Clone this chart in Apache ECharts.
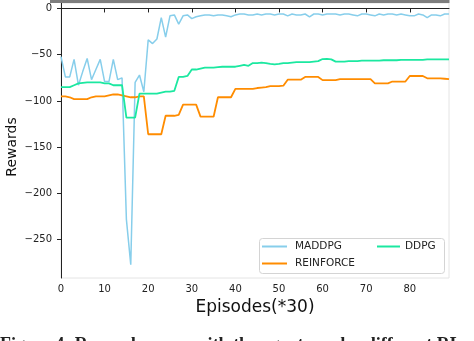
<!DOCTYPE html>
<html>
<head>
<meta charset="utf-8">
<script src="https://cdn.jsdelivr.net/npm/echarts@6/dist/echarts.min.js"></script>
<style>
  html, body { margin: 0; padding: 0; background: #fff; }
  #chart { width: 474px; height: 341px; }
</style>
</head>
<body>
<div id="chart"></div>
<script>
// Training episodes (each step = 30 episodes)
const episodes = Array.from({ length: 90 }, (_, i) => i);

// Average reward per step for each algorithm
const maddpg = [
  -52, -74, -74, -55, -83, -68, -54, -77, -66, -55,
  -79, -79, -55, -77, -75, -228, -277, -80, -72, -90,
  -34, -38, -33, -10, -31, -8, -7, -17, -8, -7,
  -11, -9, -8, -7, -7, -8, -7, -7, -8, -9,
  -7, -6, -6, -7, -7, -6, -7, -6, -6, -7,
  -6, -6, -8, -6, -7, -7, -6, -9, -6, -6,
  -7, -6, -6, -6, -7, -6, -6, -7, -8, -6,
  -6, -7, -8, -6, -7, -6, -6, -7, -6, -7,
  -8, -8, -6, -7, -10, -7, -7, -8, -6, -6
];
const reinforce = [
  -95, -95, -96, -98, -98, -98, -98, -96, -95, -95,
  -95, -94, -93, -93, -94, -95, -96, -96, -95, -95,
  -136, -136, -136, -136, -116, -116, -116, -115, -104, -104,
  -104, -104, -117, -117, -117, -117, -96, -96, -96, -96,
  -87, -87, -87, -87, -87, -86, -85.5, -85, -84, -84,
  -84, -83.5, -77, -77, -77, -77, -74, -74, -74, -74,
  -77.5, -77.5, -77.5, -77.5, -76.5, -76.5, -76.5, -76.5, -76.5, -76.5,
  -76.5, -76.5, -81, -81, -81, -81, -79, -79, -79, -79,
  -73, -73, -73, -73, -75.5, -75.5, -75.5, -75.5, -76, -76.5
];
const ddpg = [
  -85, -85, -85, -83, -81, -80.5, -80, -80, -80, -80,
  -81, -81, -83, -83, -83, -118, -118, -118, -92, -92,
  -92, -92, -92, -91, -90, -90, -89, -74, -74, -73,
  -66, -66, -65, -64, -64, -64, -63.5, -63, -63, -63,
  -63, -62, -61, -62, -59, -59, -58.5, -59, -60, -60.5,
  -60, -59, -59, -58.5, -58, -58, -58, -58, -57.5, -57,
  -54.7, -54.5, -55, -57.5, -57.5, -57.5, -57, -57, -57, -56.5,
  -56.5, -56.5, -56.5, -56.5, -56, -56, -56, -56, -55.5, -55.5,
  -55.5, -55.5, -55.5, -55.5, -55, -55, -55, -55, -55, -55
];

// Tick labels
const xTicks = [0, 10, 20, 30, 40, 50, 60, 70, 80];
const yTicks = [0, -50, -100, -150, -200, -250];

const FONT = 'DejaVu Sans';
const pairs = (ys) => episodes.map((x, i) => [x, ys[i]]);
const minus = (v) => String(v).replace('-', '\u2212');

const legendCommon = {
  orient: 'vertical', top: 240, padding: 0,
  icon: 'rect', itemHeight: 2, itemGap: 4,
  textStyle: { fontFamily: FONT, fontSize: 10.5, color: '#222', lineHeight: 13 }
};

const chart = echarts.init(document.getElementById('chart'), null, { renderer: 'canvas' });

chart.setOption({
  animation: false,
  backgroundColor: '#fff',
  textStyle: { fontFamily: FONT },
  grid: {
    left: 61, right: 25, top: 3, bottom: 63,
    show: true, borderColor: '#e4e4e4', borderWidth: 1, backgroundColor: 'transparent'
  },
  xAxis: {
    type: 'value', min: 0, max: 89,
    name: 'Episodes(*30)', nameLocation: 'middle', nameGap: 19,
    nameTextStyle: { fontFamily: FONT, fontSize: 17, color: '#111' },
    axisLine: { show: true, lineStyle: { color: '#222', width: 1 } },
    axisTick: { show: true, length: 4, customValues: xTicks, lineStyle: { color: '#222' } },
    axisLabel: { customValues: xTicks, margin: 6, fontFamily: FONT, fontSize: 10, color: '#222' },
    splitLine: { show: false }
  },
  yAxis: {
    type: 'value', min: -291.4, max: 5.9,
    axisLine: { show: true, lineStyle: { color: '#222', width: 1 } },
    axisTick: { show: true, length: 4, customValues: yTicks, lineStyle: { color: '#222' } },
    axisLabel: {
      customValues: yTicks, margin: 9, fontFamily: FONT, fontSize: 10, color: '#222',
      formatter: (v) => minus(v)
    },
    splitLine: { show: false }
  },
  legend: [
    Object.assign({}, legendCommon, {
      data: ['MADDPG', 'REINFORCE'], left: 262, itemWidth: 25,
      textStyle: Object.assign({}, legendCommon.textStyle, { padding: [0, 0, 0, 3] })
    }),
    Object.assign({}, legendCommon, {
      data: ['DDPG'], left: 377, itemWidth: 23
    })
  ],
  graphic: [
    {
      type: 'rect', z: 0,
      shape: { x: 259.5, y: 238.5, width: 185, height: 35, r: 3 },
      style: { fill: '#fff', stroke: '#d4d4d4', lineWidth: 1 }
    },
    {
      type: 'rect', z: 10,
      shape: { x: 50, y: 0, width: 399.5, height: 3 },
      style: { fill: '#7d7d7d' }
    },
    {
      type: 'text', z: 10, x: 12, y: 147, rotation: Math.PI / 2,
      style: {
        text: 'Rewards', font: '14px "DejaVu Sans"', fill: '#111',
        align: 'center', verticalAlign: 'middle'
      }
    },
    {
      type: 'text', z: 10, left: 0, top: 336,
      style: {
        text: 'Figure 4: Reward curves with the agents under different RL',
        font: 'bold 18px "Liberation Serif"', fill: '#222'
      }
    }
  ],
  series: [
    {
      name: 'MADDPG', type: 'line', data: pairs(maddpg),
      symbol: 'none', color: '#87ceeb',
      lineStyle: { width: 1.5, color: '#87ceeb' }, z: 2
    },
    {
      name: 'REINFORCE', type: 'line', data: pairs(reinforce),
      symbol: 'none', color: '#ff8c00',
      lineStyle: { width: 1.8, color: '#ff8c00' }, z: 3
    },
    {
      name: 'DDPG', type: 'line', data: pairs(ddpg),
      symbol: 'none', color: '#1be8a0',
      lineStyle: { width: 1.8, color: '#1be8a0' }, z: 4
    }
  ]
});
</script>
</body>
</html>
